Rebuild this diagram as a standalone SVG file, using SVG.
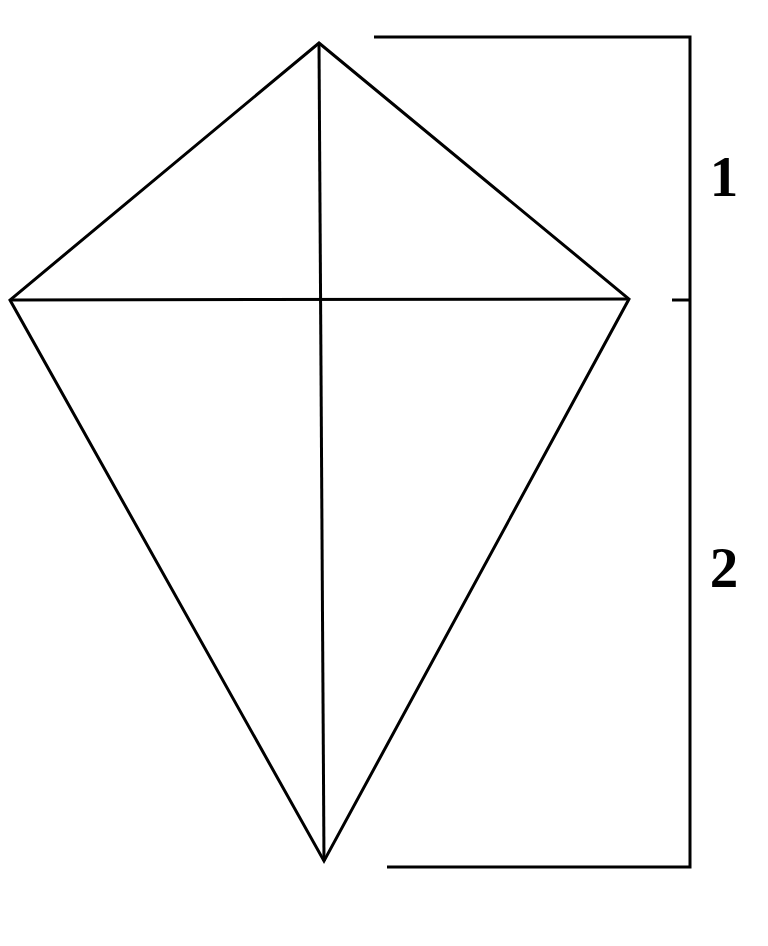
<svg xmlns="http://www.w3.org/2000/svg" width="768" height="946" viewBox="0 0 768 946">
<style>
.ln{stroke:#000;stroke-width:3;fill:none;stroke-linejoin:miter;stroke-linecap:butt}
.lbl{font-family:"Liberation Serif","Times New Roman",serif;font-weight:bold;font-size:57px;fill:#000;text-anchor:middle}
</style>
<rect width="768" height="946" fill="#fff"/>
<g id="kite">
<polygon class="ln" points="319,43 629,299 324,861 10,300"/>
<line class="ln" x1="319" y1="43" x2="324" y2="861"/>
<line class="ln" x1="10" y1="300" x2="629" y2="299"/>
</g>
<g id="bracket">
<polyline class="ln" points="374,37 690,37 690,867 387,867"/>
<line class="ln" x1="672" y1="300" x2="690" y2="300"/>
</g>
<text class="lbl" x="724" y="196">1</text>
<text class="lbl" x="724" y="587">2</text>
</svg>
